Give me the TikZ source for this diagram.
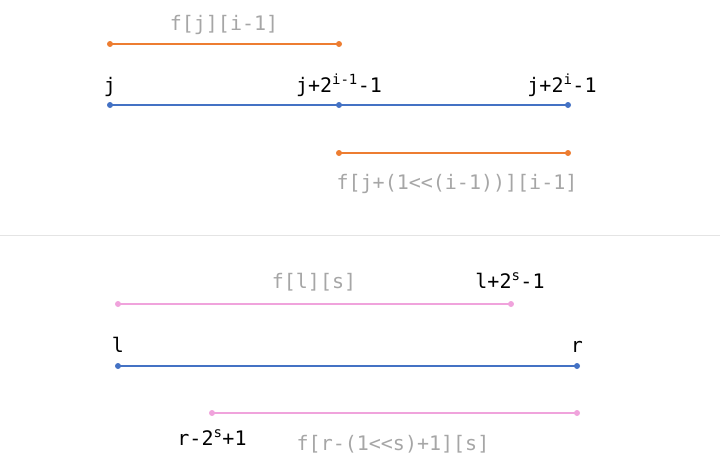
\documentclass[tikz,border=0pt]{standalone}
\usepackage{fontspec}
\setmonofont{DejaVu Sans Mono}
\definecolor{segblue}{HTML}{4472C4}
\definecolor{segorange}{HTML}{ED7D31}
\definecolor{segpink}{HTML}{F0A3DC}
\definecolor{txtgrey}{HTML}{A6A6A6}
\definecolor{sepgrey}{HTML}{E4E4E4}
\tikzset{
  seg/.style={line width=2pt},
  lbl/.style={anchor=base, inner sep=0pt, font=\fontsize{20}{24}\selectfont\ttfamily},
  cmt/.style={lbl, text=txtgrey}
}

\begin{document}
\begin{tikzpicture}[x=1pt,y=-1pt]

    \useasboundingbox (0,0) rectangle (720,469);

    % upper part: f[j][i]
    \coordinate (a0) at (110,44);
    \coordinate (a1) at (339,44);
    \coordinate (b0) at (110,105);
    \coordinate (b1) at (339,105);
    \coordinate (b2) at (568,105);
    \coordinate (c0) at (339,153);
    \coordinate (c1) at (568,153);

    \draw[seg, segorange] (a0) -- (a1);
    \draw[seg, segblue] (b0) -- (b1) -- (b2);
    \draw[seg, segorange] (c0) -- (c1);

    \foreach \i in {a0,a1,c0,c1}
    \fill[segorange] (\i) circle (3pt);
    \foreach \i in {b0,b1,b2}
    \fill[segblue] (\i) circle (3pt);

    \node[cmt] (fa) at (224,30) {f[j][i-1]};
    \node[lbl] (lj) at (110,92) {j};
    \node[lbl] (lmid) at (339,92) {j+2\textsuperscript{i-1}-1};
    \node[lbl] (lend) at (562,92) {j+2\textsuperscript{i}-1};
    \node[cmt] (fc) at (457,189) {f[j+(1<<(i-1))][i-1]};

    % separator
    \coordinate (s0) at (0,235);
    \coordinate (s1) at (720,235);
    \draw[sepgrey, line width=1pt] (s0) -- (s1);

    % lower part: query [l,r]
    \coordinate (p0) at (118,304);
    \coordinate (p1) at (511,304);
    \coordinate (q0) at (118,366);
    \coordinate (q1) at (577,366);
    \coordinate (t0) at (212,413);
    \coordinate (t1) at (577,413);

    \draw[seg, segpink] (p0) -- (p1);
    \draw[seg, segblue] (q0) -- (q1);
    \draw[seg, segpink] (t0) -- (t1);

    \foreach \i in {p0,p1,t0,t1}
    \fill[segpink] (\i) circle (3pt);
    \foreach \i in {q0,q1}
    \fill[segblue] (\i) circle (3pt);

    \node[cmt] (fp) at (314,288) {f[l][s]};
    \node[lbl] (lp) at (510,288) {l+2\textsuperscript{s}-1};
    \node[lbl] (ll) at (118,352) {l};
    \node[lbl] (lr) at (577,352) {r};
    \node[lbl] (lt) at (212,445) {r-2\textsuperscript{s}+1};
    \node[cmt] (ft) at (393,450) {f[r-(1<<s)+1][s]};

\end{tikzpicture}
\end{document}
